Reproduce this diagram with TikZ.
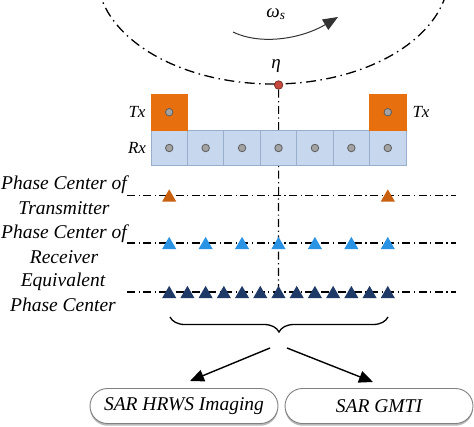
\documentclass[tikz,border=0pt]{standalone}
\usepackage{fontspec}
\setmainfont{Liberation Serif}
\usetikzlibrary{arrows.meta,shapes.geometric,shapes.misc,decorations.pathreplacing,shadows}
\definecolor{txorange}{HTML}{E86F0E}
\definecolor{rxblue}{HTML}{C6D7EE}
\definecolor{rxedge}{HTML}{98AECA}
\definecolor{dotgray}{HTML}{A3A3A3}
\definecolor{dotedge}{HTML}{5E5E5E}
\definecolor{trtri}{HTML}{C8600F}
\definecolor{rctri}{HTML}{2A93E4}
\definecolor{eqtri}{HTML}{1F3A66}
\definecolor{reddot}{HTML}{C4483C}
\definecolor{boxedge}{HTML}{808080}
\tikzset{
  dashdot/.style={line width=1.1pt, dash pattern=on 8pt off 3.5pt on 1.2pt off 3.5pt},
  bigdashdot/.style={line width=1.3pt, dash pattern=on 10pt off 4.5pt on 1.5pt off 4.5pt},
  txbox/.style={draw=txorange, fill=txorange, minimum width=36.4pt, minimum height=35.5pt, inner sep=0pt},
  rxcell/.style={draw=rxedge, fill=rxblue, line width=0.8pt, minimum width=36.4pt, minimum height=35.5pt, inner sep=0pt},
  elem/.style={circle, draw=dotedge, fill=dotgray, line width=0.8pt, minimum size=7.5pt, inner sep=0pt},
  tri/.style={regular polygon, regular polygon sides=3, minimum size=16.5pt, inner sep=0pt},
  label/.style={font=\fontsize{19.5}{25}\selectfont\itshape, align=center, inner sep=0pt},
  small/.style={font=\fontsize{17}{20}\selectfont\itshape, inner sep=0pt},
  appbox/.style={rounded rectangle, draw=boxedge, fill=white, line width=0.9pt, minimum width=188pt, minimum height=35pt, inner sep=0pt, font=\fontsize{19.5}{22}\selectfont\itshape, drop shadow={shadow xshift=0pt, shadow yshift=-2.2pt, fill=gray!70, opacity=0.8}},
  arr/.style={line width=1.4pt, -{Triangle[length=14pt, width=12pt]}},
}
\begin{document}
\begin{tikzpicture}[x=1pt, y=-1pt]
\useasboundingbox (0,0) rectangle (474,426);
% orbit
\begin{scope}
\clip (0,0) rectangle (474,426);
\draw[bigdashdot] (273,-26) ellipse [x radius=176, y radius=110];
\end{scope}
% rotation arrow
\coordinate (ws) at (233,32);
\coordinate (we) at (338,17);
\draw[line width=1pt, draw=black!80, -{Triangle[length=15pt, width=12pt]}] (ws) .. controls (262,46) and (303,38) .. (we);
\node[small, font=\fontsize{19}{20}\selectfont\itshape] (omega) at (276,14) {ω\textsubscript{s}};
\node[small, font=\fontsize{19}{20}\selectfont\itshape] (eta) at (276,66) {η};
% vertical axis
\node[circle, draw=reddot!60!black, fill=reddot, line width=0.7pt, minimum size=8.5pt, inner sep=0pt] (center) at (278.6,85) {};
\coordinate (vend) at (278.5,291);
\draw[dashdot] (center) -- (vend);
% horizontal dash-dot lines
\coordinate (t0) at (127,195.5); \coordinate (t1) at (456,195.5);
\coordinate (r0) at (127,243); \coordinate (r1) at (456,243);
\coordinate (e0) at (127,292); \coordinate (e1) at (456,292);
\draw[dashdot] (t0) -- (t1);
\draw[dashdot] (r0) -- (r1);
\draw[dashdot] (e0) -- (e1);
% antenna
\foreach \i in {0,...,6} {
  \node[rxcell] (rx\i) at ({151+36.43*(\i+0.5)},148) {};
  \node[elem] (rxd\i) at (rx\i) {};
}
\node[txbox] (txl) at (169.2,112.2) {};
\node[elem] (txld) at (txl) {};
\node[txbox] (txr) at (387.8,112.2) {};
\node[elem] (txrd) at (txr) {};
\node[small] (txlab1) at (137,112) {Tx};
\node[small] (txlab2) at (421,112) {Tx};
\node[small] (rxlab) at (137,148) {Rx};
% phase centers
\node[tri, fill=trtri] (pt0) at (169.2,197.6) {};
\node[tri, fill=trtri] (pt1) at (387.8,197.6) {};
\foreach \i in {0,...,6} {
  \node[tri, fill=rctri] (pr\i) at ({169.2+36.43*\i},245.1) {};
}
\foreach \i in {0,...,12} {
  \node[tri, fill=eqtri] (pe\i) at ({169.2+18.215*\i},294.1) {};
}
% labels
\node[label] (lt) at (64,195.5) {Phase Center of\\Transmitter};
\node[label] (lr) at (64,244) {Phase Center of\\Receiver};
\node[label] (le) at (63,292.5) {Equivalent\\Phase Center};
% brace
\coordinate (bl) at (170,317);
\coordinate (br) at (388,317);
\draw[line width=1.3pt, decorate, decoration={brace, mirror, amplitude=15pt}] (bl) -- (br);
% applications
\node[appbox] (hrws) at (184,406) {SAR HRWS Imaging};
\node[appbox] (gmti) at (379,406) {SAR GMTI};
\coordinate (a1s) at (270,348);
\coordinate (a2s) at (287,348);
\coordinate (a1e) at (190,381);
\coordinate (a2e) at (373,382);
\draw[arr] (a1s) -- (a1e);
\draw[arr] (a2s) -- (a2e);
\end{tikzpicture}
\end{document}
